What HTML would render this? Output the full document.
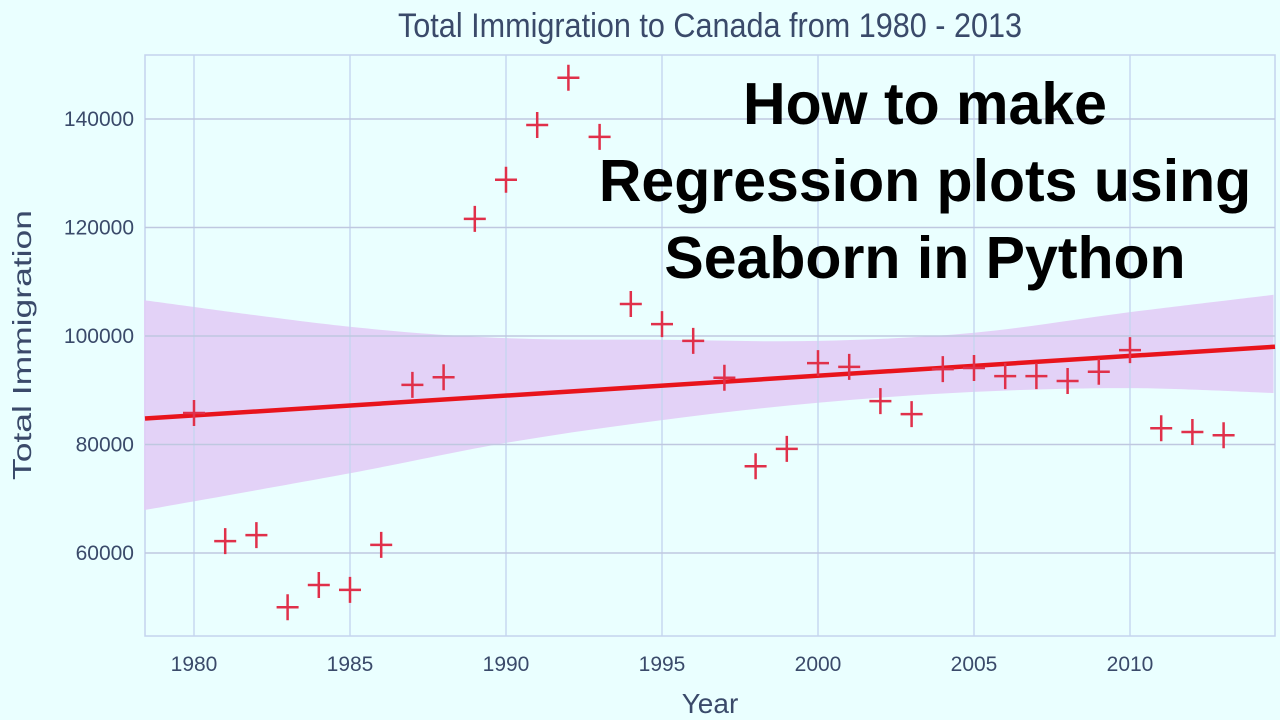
<!DOCTYPE html>
<html><head><meta charset="utf-8"><style>
html,body{margin:0;padding:0;background:#eaffff;}
svg{display:block;font-family:"Liberation Sans",sans-serif;}
.ov{position:absolute;left:565px;top:66px;width:720px;text-align:center;font-family:"Liberation Sans","DejaVu Sans",sans-serif;font-weight:bold;font-size:59px;line-height:77px;color:#000;}
</style></head><body>
<div style="position:relative;width:1280px;height:720px;overflow:hidden">
<svg id="c" width="1280" height="720"></svg>
<div class="ov">How to make<br>Regression plots using<br>Seaborn in Python</div>
</div>
<script>
const years=[1980,1981,1982,1983,1984,1985,1986,1987,1988,1989,1990,1991,1992,1993,1994,1995,1996,1997,1998,1999,2000,2001,2002,2003,2004,2005,2006,2007,2008,2009,2010,2011,2012,2013];
const totals=[85800,62200,63300,50000,54100,53200,61500,91000,92400,121600,128800,138900,147600,136700,105900,102200,99100,92300,76000,79200,95000,94300,88000,85600,93900,94100,92600,92600,91700,93400,97400,83000,82300,81700];
const ciYears=[1978.4,1985,1990,1995,2000,2005,2010,2014.6];
const ciUpper=[106600,101700,99600,99300,99100,100600,104400,107600];
const ciLower=[67900,74700,80300,84500,87700,89700,90400,89500];
const xTicks=[1980,1985,1990,1995,2000,2005,2010];
const yTicks=[60000,80000,100000,120000,140000];
const NS="http://www.w3.org/2000/svg";
const svg=document.getElementById('c');
const L=145,R=1275,T=55,B=636;
const X=v=>194+(v-1980)*31.2;
const Y=v=>336-(v-100000)*0.005425;
const xMin=(L-194)/31.2+1980,xMax=(R-194)/31.2+1980;
function el(t,a,p){const e=document.createElementNS(NS,t);for(const k in a)e.setAttribute(k,a[k]);(p||svg).appendChild(e);return e;}
let r=el('rect',{x:L,y:T,width:R-L,height:B-T,fill:'#eaffff',stroke:'#c4d4ee','stroke-width':1.5});


function smooth(pts){let d='';for(let i=0;i<pts.length;i++){const p=pts[i];if(i==0){d+=`M${p[0]},${p[1]}`;continue;}const p0=pts[i-2]||pts[i-1],p1=pts[i-1],p3=pts[i+1]||p;d+=`C${p1[0]+(p[0]-p0[0])/6},${p1[1]+(p[1]-p0[1])/6} ${p[0]-(p3[0]-p1[0])/6},${p[1]-(p3[1]-p1[1])/6} ${p[0]},${p[1]}`;}return d;}
const upP=ciYears.map((y,i)=>[X(y),Y(ciUpper[i])]);
const loP=ciYears.map((y,i)=>[X(y),Y(ciLower[i])]).reverse();
const band=el('path',{d:smooth(upP)+smooth(loP).replace('M','L')+'Z',fill:'#e2cdf6','fill-opacity':0.9});


xTicks.forEach(t=>{
 const g=el('line',{x1:X(t),x2:X(t),y1:T,y2:B,stroke:'#c4d4ee','stroke-width':1.5,'stroke-opacity':0.9});
 
 
 const tx=el('text',{x:X(t),y:671,'text-anchor':'middle','font-size':21,fill:'#3a4a6a'});tx.textContent=t;
 
 
});
yTicks.forEach(t=>{
 const g=el('line',{x1:L,x2:R,y1:Y(t),y2:Y(t),stroke:'#bfc8e0','stroke-width':1.5});
 
 
 const tx=el('text',{x:134,y:Y(t)+7,'text-anchor':'end','font-size':21,fill:'#3a4a6a'});tx.textContent=t;
 
 
});
const n=years.length;const xb=years.reduce((a,b)=>a+b)/n,yb=totals.reduce((a,b)=>a+b)/n;
let sxx=0,sxy=0;for(let i=0;i<n;i++){sxx+=(years[i]-xb)**2;sxy+=(years[i]-xb)*(totals[i]-yb);}
const b1=sxy/sxx,b0=yb-b1*xb;
const ln=el('line',{x1:X(xMin),y1:Y(b0+b1*xMin),x2:X(xMax),y2:Y(b0+b1*xMax),stroke:'#e8141c','stroke-width':4.5});


years.forEach((yr,i)=>{
 const cx=X(yr),cy=Y(totals[i]);
 const p=el('path',{d:`M${cx-11},${cy}H${cx+11}M${cx},${cy-13}V${cy+13}`,stroke:'#e0304a','stroke-width':2.5});
 
 
});
const tt=el('text',{x:710,y:37,'text-anchor':'middle','font-size':34,fill:'#3a4a6a',textLength:624,lengthAdjust:'spacingAndGlyphs'});tt.textContent='Total Immigration to Canada from 1980 - 2013';


const xl=el('text',{x:710,y:713,'text-anchor':'middle','font-size':28,fill:'#3a4a6a'});xl.textContent='Year';


const yl=el('text',{x:0,y:0,'text-anchor':'middle','font-size':26,fill:'#3a4a6a',textLength:270,lengthAdjust:'spacingAndGlyphs',transform:'translate(31,345) rotate(-90)'});yl.textContent='Total Immigration';


</script>
</body></html>
